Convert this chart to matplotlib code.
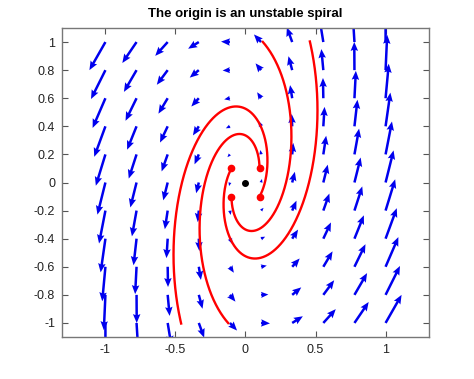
import numpy as np
import matplotlib
matplotlib.use('Agg')
import matplotlib.pyplot as plt

# linear system  x' = A x
A = np.array([[1.0, -1.0],
              [4.0, 0.5]])
grid_x = np.linspace(-1, 1, 10)
grid_y = np.linspace(-1, 1, 11)
starts = [(0.1, 0.1), (-0.1, 0.1), (-0.1, -0.1), (0.1, -0.1)]
x_ticks = [-1, -0.5, 0, 0.5, 1]
y_ticks = [-1, -0.8, -0.6, -0.4, -0.2, 0, 0.2, 0.4, 0.6, 0.8, 1]
title = 'The origin is an unstable spiral'


def field(p):
    return A @ p


def trajectory(p0, dt=0.002, ymax=1.0):
    pts = [np.array(p0, float)]
    p = pts[0]
    for _ in range(20000):
        k1 = field(p)
        k2 = field(p + dt / 2 * k1)
        k3 = field(p + dt / 2 * k2)
        k4 = field(p + dt * k3)
        p = p + dt / 6 * (k1 + 2 * k2 + 2 * k3 + k4)
        pts.append(p)
        if abs(p[1]) >= ymax:
            break
    return np.array(pts)


plt.rcParams['font.family'] = ['Liberation Sans', 'DejaVu Sans']

fig = plt.figure(figsize=(4.74, 3.79), dpi=100)
ax = fig.add_axes([62 / 474, 42 / 379, 367 / 474, 309 / 379])

X, Y = np.meshgrid(grid_x, grid_y)
U = A[0, 0] * X + A[0, 1] * Y
V = A[1, 0] * X + A[1, 1] * Y
ax.quiver(X, Y, U, V, color='#0000ee', angles='xy', scale_units='xy', scale=17.5,
          width=0.0068, headwidth=3.0, headlength=3.6, headaxislength=3.2, zorder=2)

for p0 in starts:
    tr = trajectory(p0)
    ax.plot(tr[:, 0], tr[:, 1], color='red', lw=1.7, zorder=3)
    ax.plot(p0[0], p0[1], 'o', color='red', ms=4.5, zorder=4)
ax.plot(0, 0, 'o', color='black', ms=4, zorder=4)

ax.set_xlim(-1.31, 1.31)
ax.set_ylim(-1.1, 1.1)
ax.set_xticks(x_ticks)
ax.set_xticklabels(['-1', '-0.5', '0', '0.5', '1'])
ax.set_yticks(y_ticks)
ax.set_yticklabels(['-1', '-0.8', '-0.6', '-0.4', '-0.2', '0', '0.2', '0.4', '0.6', '0.8', '1'])
ax.tick_params(direction='in', top=True, right=True, length=4, labelsize=9,
               colors='#555555', labelcolor='#222222', pad=5)
for s in ax.spines.values():
    s.set_color('#777777')
    s.set_linewidth(1.0)
ax.set_title(title, fontsize=9.5, fontweight='bold', pad=8)

fig.savefig('out.png', dpi=100)
